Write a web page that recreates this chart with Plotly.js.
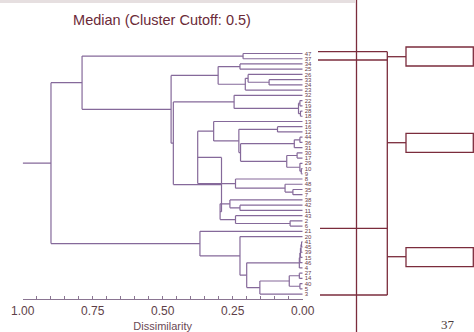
<!DOCTYPE html>
<html><head><meta charset="utf-8">
<script src="https://cdn.plot.ly/plotly-3.0.1.min.js"></script>
<style>html,body{margin:0;padding:0;background:#fff}#chart{width:474px;height:332px}</style>
</head><body><div id="chart"></div>
<script>
// Leaf order, top to bottom
const leafLabels = ['47','37','34','25','26','33','24','23','32','22','19','28','18','13','16','12','44','36','31','30','17','29','10','9','8','48','35','7','38','42','11','43','2','6','21','20','41','45','39','15','46','4','27','14','40','5','3'];

// Merges in order: node name, first child, second child, dissimilarity at the merge
// (median linkage: a merge may sit below one of its children)
const mergeNode   = ['m4737','m3425','m3324','m26','m23','mC1','m2219','m2818','mQ','m32','m1612','m4436','m31','m3017','m109','m29','m30g','mG','mF','mE','m357','m48','m8','m4211','m38','m26b','m43','m38all','mD','mP','mB','mA','mU','p4145','p39','p15','p46','p4','p2714','p405','pL5','pL4','pL2','pL1','pL0','root'];
const mergeA      = ['47','34','33','26','m26','m3425','22','28','m2219','32','16','44','m4436','30','10','29','m3017','m31','m1612','13','35','48','8','42','38','2','43','m38','mE','mD','m32','mC1','m4737','41','p4145','p39','p15','p46','27','40','p2714','pL5','p4','20','21','mU'];
const mergeB      = ['37','25','24','m3324','23','m23','19','18','m2818','mQ','12','36','31','17','9','m109','m29','m30g','mG','mF','7','m357','m48','11','m4211','6','m26b','m43','m8','m38all','mP','mB','mA','45','39','15','46','4','14','5','p405','3','pL4','pL2','pL1','pL0'];
const mergeHeight = [0.213,0.224,0.12,0.195,0.205,0.302,0.01,0.008,0.015,0.245,0.09,0.01,0.03,0.02,0.005,0.01,0.057,0.222,0.228,0.318,0.035,0.063,0.24,0.224,0.26,0.045,0.24,0.295,0.375,0.29,0.462,0.47,0.788,0.004,0.006,0.008,0.01,0.012,0.012,0.01,0.048,0.153,0.2,0.224,0.367,0.899];

const xTitle = 'Dissimilarity';
const chartTitle = 'Median (Cluster Cutoff: 0.5)';

// ---- build dendrogram segments ----
const pos = {};
leafLabels.forEach((l, i) => { pos[l] = {y: i + 1, h: 0}; });
const xs = [], ys = [];
let rootName = null;
mergeNode.forEach((n, k) => {
  const a = pos[mergeA[k]], b = pos[mergeB[k]], h = mergeHeight[k];
  xs.push(h, a.h, null); ys.push(a.y, a.y, null);
  xs.push(h, b.h, null); ys.push(b.y, b.y, null);
  xs.push(h, h, null);   ys.push(a.y, b.y, null);
  pos[n] = {y: (a.y + b.y) / 2, h: h};
  rootName = n;
});
const r = pos[rootName];
xs.push(1.0, r.h, null); ys.push(r.y, r.y, null);

const W = 474, H = 332;
const px = x => x / W, py = y => 1 - y / H;
const maroon = '#7b2c3c';
function seg(x0, y0, x1, y1, c, w) {
  return {type: 'line', xref: 'paper', yref: 'paper', x0: px(x0), y0: py(y0), x1: px(x1), y1: py(y1),
          line: {color: c || maroon, width: w || 1.3}, layer: 'above'};
}
function box(x0, y0, x1, y1) {
  return {type: 'rect', xref: 'paper', yref: 'paper', x0: px(x0), y0: py(y0), x1: px(x1), y1: py(y1),
          line: {color: maroon, width: 1.3}, fillcolor: 'rgba(0,0,0,0)'};
}
const shapes = [
  {type: 'rect', xref: 'paper', yref: 'paper', x0: 0, x1: px(355), y0: py(3), y1: 1, line: {width: 0}, fillcolor: '#e6dfe0', layer: 'below'},
  seg(356.5, 0, 356.5, 332),
  seg(318, 51.7, 387.3, 51.7),
  seg(318, 60, 387.3, 60),
  seg(387.3, 51.7, 387.3, 295),
  seg(387.3, 56.7, 406, 56.7), box(406, 47, 473.3, 66),
  seg(387.3, 142.7, 406, 142.7), box(406, 133.3, 473.3, 152.3),
  seg(320, 228.3, 387.3, 228.3),
  seg(387.3, 256.7, 406, 256.7), box(406, 247.7, 473.3, 266.7),
  seg(320, 295, 387.3, 295)
];

const yTop = 1 + (40 - 53.5) / 5.23, yBot = 1 + (299.3 - 53.5) / 5.23;

const data = [{
  type: 'scatter', mode: 'lines', x: xs, y: ys, connectgaps: false,
  line: {color: '#85699a', width: 1.2}, hoverinfo: 'skip', showlegend: false
}];

const layout = {
  width: W, height: H, margin: {l: 0, r: 0, t: 0, b: 0},
  paper_bgcolor: '#ffffff', plot_bgcolor: 'rgba(0,0,0,0)', showlegend: false,
  font: {family: 'Liberation Sans, Arial, sans-serif', color: '#5e3f48'},
  title: {text: chartTitle, x: 162 / W, xanchor: 'center', xref: 'paper', yref: 'paper', y: py(20), yanchor: 'middle',
          font: {family: 'Liberation Sans, Arial, sans-serif', size: 14.5, color: '#6b2a38'}},
  xaxis: {domain: [22.7 / W, 302.7 / W], range: [1, 0], autorange: false, anchor: 'y',
          tick0: 0, dtick: 0.25, tickformat: '.2f', ticks: 'inside', ticklen: 3, tickcolor: '#8a7592', tickwidth: 1,
          showline: true, linecolor: '#8a7592', linewidth: 1, showgrid: false, zeroline: false,
          minor: {tick0: 0, dtick: 0.05, ticks: 'inside', ticklen: 3, tickcolor: '#8a7592', showgrid: false},
          tickfont: {size: 12, color: '#5e3f48'}, ticklabelstandoff: 0,
          title: {text: xTitle, font: {size: 11, color: '#6b4a55'}, standoff: 5}, fixedrange: true},
  yaxis: {domain: [py(299.3), py(40)], range: [yBot, yTop], autorange: false, anchor: 'x', side: 'right',
          tickmode: 'array', tickvals: leafLabels.map((l, i) => i + 1), ticktext: leafLabels,
          ticks: '', showline: false, showgrid: false, zeroline: false, ticklabelstandoff: 1,
          tickfont: {size: 6, color: '#6a3d4a'}, fixedrange: true},
  shapes: shapes,
  annotations: [{text: '37', xref: 'paper', yref: 'paper', x: px(447.5), y: py(324), xanchor: 'center', yanchor: 'middle',
                 showarrow: false, font: {family: 'Liberation Serif, Times New Roman, serif', size: 13, color: '#4a3a3c'}}]
};
Plotly.newPlot('chart', data, layout, {staticPlot: true, displayModeBar: false});
</script>
</body></html>
